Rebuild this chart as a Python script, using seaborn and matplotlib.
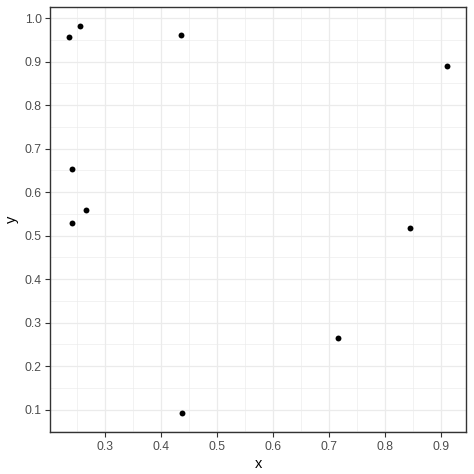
import matplotlib
matplotlib.use("Agg")
import matplotlib.pyplot as plt
import seaborn as sns
import pandas as pd
from matplotlib.ticker import MultipleLocator

x_vals = [0.2368, 0.2559, 0.4368, 0.2421, 0.2671, 0.2421, 0.4386, 0.7168, 0.9120, 0.8453]
y_vals = [0.9573, 0.9810, 0.9620, 0.6520, 0.5587, 0.5290, 0.0924, 0.2656, 0.8890, 0.5174]
x_ticks = [0.3, 0.4, 0.5, 0.6, 0.7, 0.8, 0.9]
y_ticks = [0.1, 0.2, 0.3, 0.4, 0.5, 0.6, 0.7, 0.8, 0.9, 1.0]

df = pd.DataFrame({"x": x_vals, "y": y_vals})

sns.set_theme(style="white")
plt.rcParams["font.family"] = ["Liberation Sans", "DejaVu Sans"]

fig = plt.figure(figsize=(4.74, 4.74), dpi=100)
ax = fig.add_axes([50.3 / 474, 1 - 432.3 / 474, (466.3 - 50.3) / 474, (432.3 - 7) / 474])

sns.scatterplot(data=df, x="x", y="y", ax=ax, color="black", s=18, linewidth=0, zorder=3)

xr = max(x_vals) - min(x_vals)
yr = max(y_vals) - min(y_vals)
ax.set_xlim(min(x_vals) - 0.05 * xr, max(x_vals) + 0.05 * xr)
ax.set_ylim(min(y_vals) - 0.05 * yr, max(y_vals) + 0.05 * yr)

ax.set_xticks(x_ticks)
ax.set_yticks(y_ticks)
ax.set_xticklabels([f"{v:.1f}" for v in x_ticks])
ax.set_yticklabels([f"{v:.1f}" for v in y_ticks])
ax.xaxis.set_minor_locator(MultipleLocator(0.05))
ax.yaxis.set_minor_locator(MultipleLocator(0.05))

ax.grid(which="major", color="#EBEBEB", linewidth=0.9)
ax.grid(which="minor", color="#EBEBEB", linewidth=0.45)
ax.set_axisbelow(True)

for sp in ax.spines.values():
    sp.set_visible(True)
    sp.set_color("#333333")
    sp.set_linewidth(1.0)

ax.tick_params(axis="both", which="major", length=3.5, width=0.8, color="#333333",
               labelsize=8.7, labelcolor="#4D4D4D", pad=2.5, bottom=True, left=True)
ax.tick_params(axis="both", which="minor", length=0)

ax.set_xlabel("x", fontsize=10.5, color="black", labelpad=3)
ax.set_ylabel("y", fontsize=10.5, color="black", labelpad=4)

fig.savefig("out.png", dpi=100)
